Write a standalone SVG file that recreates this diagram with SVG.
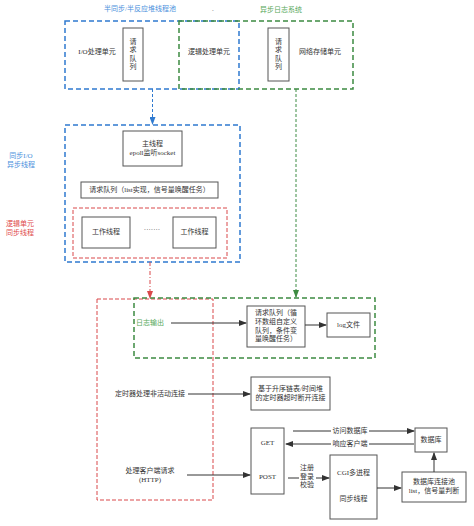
<svg xmlns="http://www.w3.org/2000/svg" width="474" height="526" viewBox="0 0 474 526">
<style>
text{font-family:"Liberation Serif","Noto Sans CJK SC",serif;font-size:7px;fill:#333;text-anchor:middle;dominant-baseline:central}
.box{fill:#fff;stroke:#555;stroke-width:1}
.bl{fill:none;stroke:#2f7ad0;stroke-width:1.5;stroke-dasharray:5 3}
.gr{fill:none;stroke:#3d8b42;stroke-width:1.5;stroke-dasharray:5 3}
.rd{fill:none;stroke:#d9484a;stroke-width:1;stroke-dasharray:4 2}
.tb{fill:#4a90dc}.tg{fill:#57a85a}.tr{fill:#e04b4b}
.ln{stroke:#333;stroke-width:1;fill:none;marker-end:url(#ah)}
</style>
<defs>
<marker id="ah" markerWidth="8" markerHeight="6" refX="7" refY="3" orient="auto" markerUnits="userSpaceOnUse"><path d="M0,0L8,3L0,6z" fill="#333"/></marker>
<marker id="ahb" markerWidth="8" markerHeight="6" refX="7" refY="3" orient="auto" markerUnits="userSpaceOnUse"><path d="M0,0L8,3L0,6z" fill="#2f7ad0"/></marker>
<marker id="ahg" markerWidth="8" markerHeight="6" refX="7" refY="3" orient="auto" markerUnits="userSpaceOnUse"><path d="M0,0L8,3L0,6z" fill="#3d8b42"/></marker>
<marker id="ahr" markerWidth="8" markerHeight="6" refX="7" refY="3" orient="auto" markerUnits="userSpaceOnUse"><path d="M0,0L8,3L0,6z" fill="#d9484a"/></marker>
</defs>
<rect width="474" height="526" fill="#fff"/>

<g id="groups">
<text x="140" y="9" class="tb">半同步/半反应堆线程池</text>
<text x="213" y="10" style="fill:#aaa;font-size:5px">•</text>
<text x="281" y="10" class="tg">异步日志系统</text>
<rect x="65" y="21" width="174" height="68" class="bl"/>
<rect x="179" y="21" width="174" height="68" class="gr"/>
<rect x="65" y="125" width="175" height="137" class="bl"/>
<rect x="73" y="208" width="154" height="50" class="rd"/>
<text x="21" y="156" class="tb">同步I/O</text>
<text x="21" y="165" class="tb">异步线程</text>
<text x="20" y="224" class="tr">逻辑单元</text>
<text x="20" y="233" class="tr">同步线程</text>
<rect x="97" y="299" width="116" height="201" class="rd"/>
<rect x="134" y="298" width="241" height="60" class="gr"/>
</g>

<g id="io-unit"><text x="97" y="52">I/O处理单元</text></g>
<g id="queue1"><rect x="123" y="28" width="20" height="53" class="box"/>
<text x="133" y="42">请</text><text x="133" y="50">求</text><text x="133" y="59">队</text><text x="133" y="67">列</text></g>
<g id="logic-unit"><text x="209" y="52">逻辑处理单元</text></g>
<g id="queue2"><rect x="268" y="28" width="21" height="53" class="box"/>
<text x="278.5" y="42">请</text><text x="278.5" y="50">求</text><text x="278.5" y="59">队</text><text x="278.5" y="67">列</text></g>
<g id="net-unit"><text x="320" y="52">网络存储单元</text></g>

<g id="main-thread"><rect x="123" y="131" width="59" height="35" class="box"/>
<text x="152.5" y="144">主线程</text><text x="152.5" y="153">epoll监听socket</text></g>
<g id="req-queue"><rect x="81" y="182" width="137" height="16" class="box"/>
<text x="149.5" y="190">请求队列（list实现，信号量唤醒任务）</text></g>
<g id="worker1"><rect x="82" y="217" width="48" height="31" class="box"/><text x="106" y="232">工作线程</text></g>
<g id="dots"><text x="152" y="230">·······</text></g>
<g id="worker2"><rect x="173" y="217" width="43" height="31" class="box"/><text x="194.5" y="232">工作线程</text></g>

<g id="log-output"><text x="150" y="323" class="tg">日志输出</text></g>
<g id="log-queue"><rect x="247" y="306" width="58" height="41" class="box"/>
<text x="276" y="313">请求队列（循</text><text x="276" y="322">环数组自定义</text><text x="276" y="331">队列，条件变</text><text x="276" y="339">量唤醒任务）</text></g>
<g id="log-file"><rect x="327" y="313" width="43" height="24" class="box"/><text x="348.5" y="325">log文件</text></g>

<g id="timer-label"><text x="150" y="394">定时器处理非活动连接</text></g>
<g id="timer"><rect x="251" y="377" width="79" height="33" class="box"/>
<text x="290.5" y="389">基于升序链表/时间堆</text><text x="290.5" y="398">的定时器超时断开连接</text></g>

<g id="client-label"><text x="150" y="471">处理客户端请求</text><text x="150" y="480">(HTTP)</text></g>
<g id="http"><rect x="251" y="428" width="33" height="66" class="box"/>
<text x="267.5" y="443">GET</text><text x="267.5" y="477">POST</text></g>
<g id="database"><rect x="415" y="428" width="32" height="24" class="box"/><text x="431" y="440">数据库</text></g>
<g id="cgi"><rect x="330" y="455" width="47" height="64" class="box"/>
<text x="353.5" y="473">CGI多进程</text><text x="353.5" y="499">同步线程</text></g>
<g id="pool"><rect x="402" y="472" width="64" height="30" class="box"/>
<text x="434" y="482">数据库连接池</text><text x="434" y="491">list，信号量判断</text></g>

<g id="connectors">
<path d="M152.5,89V124" fill="none" stroke="#2f7ad0" stroke-width="1" stroke-dasharray="3 2" marker-end="url(#ahb)"/>
<path d="M296,89V297" fill="none" stroke="#3d8b42" stroke-width="1" stroke-dasharray="3 2" marker-end="url(#ahg)"/>
<path d="M150,262V298" fill="none" stroke="#d9484a" stroke-width="1" stroke-dasharray="4 2 1 2" marker-end="url(#ahr)"/>
<path d="M171,323H246" class="ln"/>
<path d="M305,325H326" class="ln"/>
<path d="M188,394H250" class="ln"/>
<path d="M187,475H250" class="ln"/>
<path d="M293,431H414" class="ln"/>
<path d="M414,444H286" class="ln"/>
<path d="M288,478H329" class="ln"/>
<path d="M377,488H401" class="ln"/>
<path d="M434,472V453" class="ln"/>
<rect x="331" y="427" width="38" height="8" fill="#fff"/>
<text x="350" y="431">访问数据库</text>
<rect x="331" y="440" width="38" height="8" fill="#fff"/>
<text x="350" y="444">响应客户端</text>
<rect x="299" y="464" width="17" height="26" fill="#fff"/>
<text x="307" y="468">注册</text><text x="307" y="477">登录</text><text x="307" y="485">校验</text>
</g>
</svg>
